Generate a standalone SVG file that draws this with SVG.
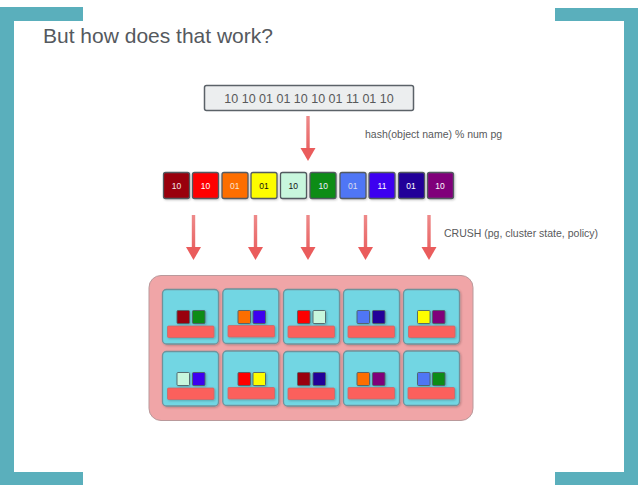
<svg xmlns="http://www.w3.org/2000/svg" width="638" height="493" viewBox="0 0 638 493">
<defs>
<filter id="sh" x="-20%" y="-20%" width="150%" height="150%"><feDropShadow dx="1" dy="1" stdDeviation="1" flood-color="#000" flood-opacity=".22"/></filter>
<linearGradient id="shaft" x1="0" y1="0" x2="0" y2="1"><stop offset="0" stop-color="#ee8a8a"/><stop offset="1" stop-color="#e96464"/></linearGradient>
<style>
text{font-family:"Liberation Sans",Arial,sans-serif}
.frame{fill:#5aafbc}
.lab{font-size:10.5px;fill:#58595b}
.bit{font-size:8.5px;text-anchor:middle}
.cell{stroke:#525a60;stroke-width:1.3;filter:url(#sh)}
.osd{fill:#72d6e3;stroke:#6f929b;stroke-width:1.3;filter:url(#sh)}
.bar{fill:#fb615c;stroke:#c9686a;stroke-width:.8;filter:url(#sh)}
.sq{stroke:#4f6066;stroke-width:.9;filter:url(#sh)}
.ar{fill:url(#shaft)}
.hd{fill:#ea5c5c}
</style>
</defs>
<rect width="638" height="493" fill="#fff"/>
<g id="frame">
<path class="frame" d="M0 7H83V21H14V472H83V485H0Z"/>
<path class="frame" d="M555 8H638V485H555V472H624V21H555Z"/>
</g>
<text x="43" y="43" font-size="21" fill="#55595e">But how does that work?</text>
<g id="input">
<rect x="204.500" y="85.500" width="209" height="25" rx="2" fill="#eceeef" stroke="#5b6268" stroke-width="1.5"/>
<text x="309" y="103" font-size="12.500" fill="#58595b" text-anchor="middle">10 10 01 01 10 10 01 11 01 10</text>
</g>
<g id="connectors">
<rect class="ar" x="306.300" y="116" width="3.400" height="33"/><path class="hd" d="M300.500 148H315.500L308 161Z"/>
<rect class="ar" x="191.800" y="215" width="3.400" height="33"/><path class="hd" d="M186 247H201L193.500 260Z"/>
<rect class="ar" x="253.800" y="215" width="3.400" height="33"/><path class="hd" d="M248 247H263L255.500 260Z"/>
<rect class="ar" x="306.300" y="215" width="3.400" height="33"/><path class="hd" d="M300.500 247H315.500L308 260Z"/>
<rect class="ar" x="363.800" y="215" width="3.400" height="33"/><path class="hd" d="M358 247H373L365.500 260Z"/>
<rect class="ar" x="427.300" y="215" width="3.400" height="33"/><path class="hd" d="M421.500 247H436.500L429 260Z"/>
</g>
<text class="lab" x="365" y="138">hash(object name) % num pg</text>
<text class="lab" x="444" y="237">CRUSH (pg, cluster state, policy)</text>
<g id="pgs">
<g id="pg1"><rect class="cell" x="163.500" y="172.500" width="26" height="26" rx="2" fill="#99000b"/><text class="bit" x="176.500" y="189" fill="#f4e8e8">10</text></g>
<g id="pg2"><rect class="cell" x="192.500" y="172.500" width="26" height="26" rx="2" fill="#fe0006"/><text class="bit" x="205.500" y="189" fill="#fff">10</text></g>
<g id="pg3"><rect class="cell" x="222" y="172.500" width="26" height="26" rx="2" fill="#fd6e06"/><text class="bit" x="234.700" y="189" fill="#fbe3cf">01</text></g>
<g id="pg4"><rect class="cell" x="251" y="172.500" width="26" height="26" rx="2" fill="#fdfd06"/><text class="bit" x="264" y="189" fill="#111">01</text></g>
<g id="pg5"><rect class="cell" x="280.500" y="172.500" width="26" height="26" rx="2" fill="#c8f7dd"/><text class="bit" x="293.300" y="189" fill="#111">10</text></g>
<g id="pg6"><rect class="cell" x="310" y="172.500" width="26" height="26" rx="2" fill="#078c16"/><text class="bit" x="323.300" y="189" fill="#eef">10</text></g>
<g id="pg7"><rect class="cell" x="340" y="172.500" width="26" height="26" rx="2" fill="#4f76f5"/><text class="bit" x="352.800" y="189" fill="#dde">01</text></g>
<g id="pg8"><rect class="cell" x="369" y="172.500" width="26" height="26" rx="2" fill="#3c00f0"/><text class="bit" x="382" y="189" fill="#fff">11</text></g>
<g id="pg9"><rect class="cell" x="398.500" y="172.500" width="26" height="26" rx="2" fill="#220099"/><text class="bit" x="411" y="189" fill="#fff">01</text></g>
<g id="pg10"><rect class="cell" x="427.500" y="172.500" width="26" height="26" rx="2" fill="#80067a"/><text class="bit" x="440" y="189" fill="#fff">10</text></g>
</g>
<g id="cluster"><rect x="149" y="275.500" width="324" height="145" rx="12" fill="#f0a5a7" stroke="#b9999b" stroke-width="1"/></g>
<g id="osd1"><rect class="osd" x="162.500" y="289.500" width="56" height="54.500" rx="4"/><rect class="sq" x="177" y="310.500" width="12.500" height="13" rx="1" fill="#99000b"/><rect class="sq" x="192.500" y="310.500" width="12.500" height="13" rx="1" fill="#078c16"/><rect class="bar" x="167.500" y="326" width="46.500" height="11.500" rx="1"/></g>
<g id="osd2"><rect class="osd" x="222.800" y="289" width="56" height="54.500" rx="4"/><rect class="sq" x="238" y="310.500" width="12.500" height="13" rx="1" fill="#fd6e06"/><rect class="sq" x="253" y="310.500" width="12.500" height="13" rx="1" fill="#3c00f0"/><rect class="bar" x="228" y="325.500" width="46.500" height="11.500" rx="1"/></g>
<g id="osd3"><rect class="osd" x="283.500" y="289.500" width="56" height="54.500" rx="4"/><rect class="sq" x="297.500" y="310.500" width="12.500" height="13" rx="1" fill="#fe0006"/><rect class="sq" x="313" y="310.500" width="12.500" height="13" rx="1" fill="#c8f7dd"/><rect class="bar" x="288" y="326" width="46.500" height="11.500" rx="1"/></g>
<g id="osd4"><rect class="osd" x="343.500" y="289.500" width="56" height="54.500" rx="4"/><rect class="sq" x="357" y="310.500" width="12.500" height="13" rx="1" fill="#4f76f5"/><rect class="sq" x="372.500" y="310.500" width="12.500" height="13" rx="1" fill="#220099"/><rect class="bar" x="348" y="326" width="46.500" height="11.500" rx="1"/></g>
<g id="osd5"><rect class="osd" x="403.500" y="289.500" width="56" height="54.500" rx="4"/><rect class="sq" x="417.500" y="310.500" width="12.500" height="13" rx="1" fill="#fdfd06"/><rect class="sq" x="432.500" y="310.500" width="12.500" height="13" rx="1" fill="#80067a"/><rect class="bar" x="408.500" y="326" width="46.500" height="11.500" rx="1"/></g>
<g id="osd6"><rect class="osd" x="162.500" y="351.500" width="56" height="54.500" rx="4"/><rect class="sq" x="177" y="372.500" width="12.500" height="13" rx="1" fill="#c8f7dd"/><rect class="sq" x="192.500" y="372.500" width="12.500" height="13" rx="1" fill="#3c00f0"/><rect class="bar" x="167.500" y="388" width="46.500" height="11.500" rx="1"/></g>
<g id="osd7"><rect class="osd" x="222.800" y="351" width="56" height="54.500" rx="4"/><rect class="sq" x="238" y="372.500" width="12.500" height="13" rx="1" fill="#fe0006"/><rect class="sq" x="253" y="372.500" width="12.500" height="13" rx="1" fill="#fdfd06"/><rect class="bar" x="228" y="387.500" width="46.500" height="11.500" rx="1"/></g>
<g id="osd8"><rect class="osd" x="283.500" y="351.500" width="56" height="54.500" rx="4"/><rect class="sq" x="297.500" y="372.500" width="12.500" height="13" rx="1" fill="#99000b"/><rect class="sq" x="313" y="372.500" width="12.500" height="13" rx="1" fill="#220099"/><rect class="bar" x="288" y="388" width="46.500" height="11.500" rx="1"/></g>
<g id="osd9"><rect class="osd" x="343.500" y="351" width="56" height="54.500" rx="4"/><rect class="sq" x="357" y="372.500" width="12.500" height="13" rx="1" fill="#fd6e06"/><rect class="sq" x="372.500" y="372.500" width="12.500" height="13" rx="1" fill="#80067a"/><rect class="bar" x="348" y="387.500" width="46.500" height="11.500" rx="1"/></g>
<g id="osd10"><rect class="osd" x="403.500" y="351" width="56" height="54.500" rx="4"/><rect class="sq" x="417.500" y="372.500" width="12.500" height="13" rx="1" fill="#4f76f5"/><rect class="sq" x="432.500" y="372.500" width="12.500" height="13" rx="1" fill="#078c16"/><rect class="bar" x="408" y="387.500" width="46.500" height="11.500" rx="1"/></g>
</svg>
